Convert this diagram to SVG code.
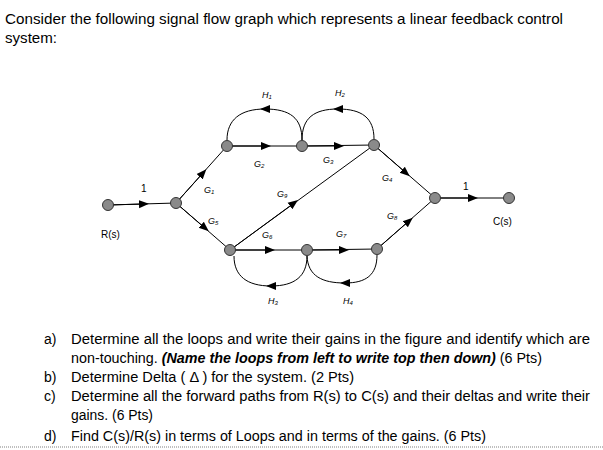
<svg xmlns="http://www.w3.org/2000/svg" width="603" height="450" viewBox="0 0 603 450">
<style>
.t{font-family:"Liberation Sans",Arial,sans-serif;font-size:14px;fill:#000}
.g{font-family:"Liberation Sans",Arial,sans-serif;font-size:9px;font-style:italic;fill:#000}
.lb{font-family:"Liberation Sans",Arial,sans-serif;font-size:10px;fill:#000}
.e{fill:none;stroke:#000;stroke-width:1}
.m{marker-end:url(#a)}
.n{fill:#8a8a8a;stroke:#333;stroke-width:1}
</style>
<defs>
<marker id="a" viewBox="0 0 10 10" refX="5" refY="5" markerWidth="10" markerHeight="10" markerUnits="userSpaceOnUse" orient="auto">
<path d="M0,1 L10,5 L0,9 Z" fill="#000"/>
</marker>
</defs>
<rect width="603" height="450" fill="#fff"/>
<text class="t" x="5" y="24" textLength="558" lengthAdjust="spacingAndGlyphs">Consider the following signal flow graph which represents a linear feedback control</text>
<text class="t" x="5" y="43" textLength="52" lengthAdjust="spacingAndGlyphs">system:</text>
<g id="connectors">
<path class="e" d="M108,205 L176,203"/><path class="e m" d="M108,205 L144,204"/>
<path class="e" d="M176,203 L227,146"/><path class="e m" d="M176,203 L203,173"/>
<path class="e" d="M227,146 L302,146"/><path class="e m" d="M227,146 L266,146"/>
<path class="e" d="M302,146 L374,145"/><path class="e m" d="M302,146 L339,146"/>
<path class="e" d="M374,145 L435,198"/><path class="e m" d="M374,145 L406,173"/>
<path class="e" d="M435,198 L509,198"/><path class="e m" d="M435,198 L473,198"/>
<path class="e" d="M176,203 L230,250"/><path class="e m" d="M176,203 L205,228"/>
<path class="e" d="M230,250 L307,250"/><path class="e m" d="M230,250 L270,250"/>
<path class="e" d="M307,250 L377,249"/><path class="e m" d="M307,250 L344,250"/>
<path class="e" d="M377,249 L435,198"/><path class="e m" d="M377,249 L409,221"/>
<path class="e" d="M230,250 L374,145"/><path class="e m" d="M230,250 L294,203"/>
<path class="e m" d="M302,140 C302,118 290,109 265,109"/><path class="e" d="M265,109 C240,109 227,120 227,140"/>
<path class="e m" d="M374,139 C374,118 362,109 338,109"/><path class="e" d="M338,109 C314,109 302,118 302,140"/>
<path class="e m" d="M307,256 C307,276 295,286 271,286"/><path class="e" d="M271,286 C247,286 234,276 234,256"/>
<path class="e m" d="M377,255 C377,275 366,283 345,283"/><path class="e" d="M345,283 C322,283 308,276 307,256"/>
</g>
<g id="R"><circle class="n" cx="108" cy="205" r="5.5"/></g>
<g id="n1"><circle class="n" cx="176" cy="203" r="5.5"/></g>
<g id="n2"><circle class="n" cx="227" cy="146" r="5.5"/></g>
<g id="n3"><circle class="n" cx="302" cy="146" r="5.5"/></g>
<g id="n4"><circle class="n" cx="374" cy="145" r="5.5"/></g>
<g id="n5"><circle class="n" cx="435" cy="198" r="5.5"/></g>
<g id="C"><circle class="n" cx="509" cy="198" r="5.5"/></g>
<g id="n6"><circle class="n" cx="230" cy="250" r="5.5"/></g>
<g id="n7"><circle class="n" cx="307" cy="250" r="5.5"/></g>
<g id="n8"><circle class="n" cx="377" cy="249" r="5.5"/></g>
<g id="labels">
<text class="lb" x="141" y="192">1</text>
<text class="lb" x="463" y="190">1</text>
<text class="lb" x="101" y="238">R(s)</text>
<text class="lb" x="493" y="225">C(s)</text>
<text class="g" x="204" y="193">G<tspan font-size="6" dy="1">1</tspan></text>
<text class="g" x="254" y="167">G<tspan font-size="6" dy="1">2</tspan></text>
<text class="g" x="323" y="163">G<tspan font-size="6" dy="1">3</tspan></text>
<text class="g" x="382" y="181">G<tspan font-size="6" dy="1">4</tspan></text>
<text class="g" x="208" y="224">G<tspan font-size="6" dy="1">5</tspan></text>
<text class="g" x="262" y="238">G<tspan font-size="6" dy="1">6</tspan></text>
<text class="g" x="336" y="237">G<tspan font-size="6" dy="1">7</tspan></text>
<text class="g" x="387" y="219">G<tspan font-size="6" dy="1">8</tspan></text>
<text class="g" x="277" y="197">G<tspan font-size="6" dy="1">9</tspan></text>
<text class="g" x="262" y="98">H<tspan font-size="6" dy="1">1</tspan></text>
<text class="g" x="335" y="96">H<tspan font-size="6" dy="1">2</tspan></text>
<text class="g" x="268" y="304">H<tspan font-size="6" dy="1">3</tspan></text>
<text class="g" x="343" y="304">H<tspan font-size="6" dy="1">4</tspan></text>
</g>
<g id="questions" class="t">
<text x="44" y="344">a)</text>
<text x="71" y="344" textLength="519" lengthAdjust="spacingAndGlyphs">Determine all the loops and write their gains in the figure and identify which are</text>
<text x="71" y="363" textLength="471" lengthAdjust="spacingAndGlyphs">non-touching. <tspan font-weight="bold" font-style="italic">(Name the loops from left to write top then down)</tspan> (6 Pts)</text>
<text x="44" y="382">b)</text>
<text x="71" y="382" textLength="283" lengthAdjust="spacingAndGlyphs">Determine Delta ( Δ ) for the system. (2 Pts)</text>
<text x="44" y="401">c)</text>
<text x="71" y="401" textLength="519" lengthAdjust="spacingAndGlyphs">Determine all the forward paths from R(s) to C(s) and their deltas and write their</text>
<text x="71" y="420" textLength="82" lengthAdjust="spacingAndGlyphs">gains. (6 Pts)</text>
<text x="44" y="441">d)</text>
<text x="71" y="441" textLength="415" lengthAdjust="spacingAndGlyphs">Find C(s)/R(s) in terms of Loops and in terms of the gains. (6 Pts)</text>
</g>
<line x1="0" y1="447" x2="603" y2="447" stroke="#aaa" stroke-width="1.5" stroke-dasharray="1,1"/>
</svg>
